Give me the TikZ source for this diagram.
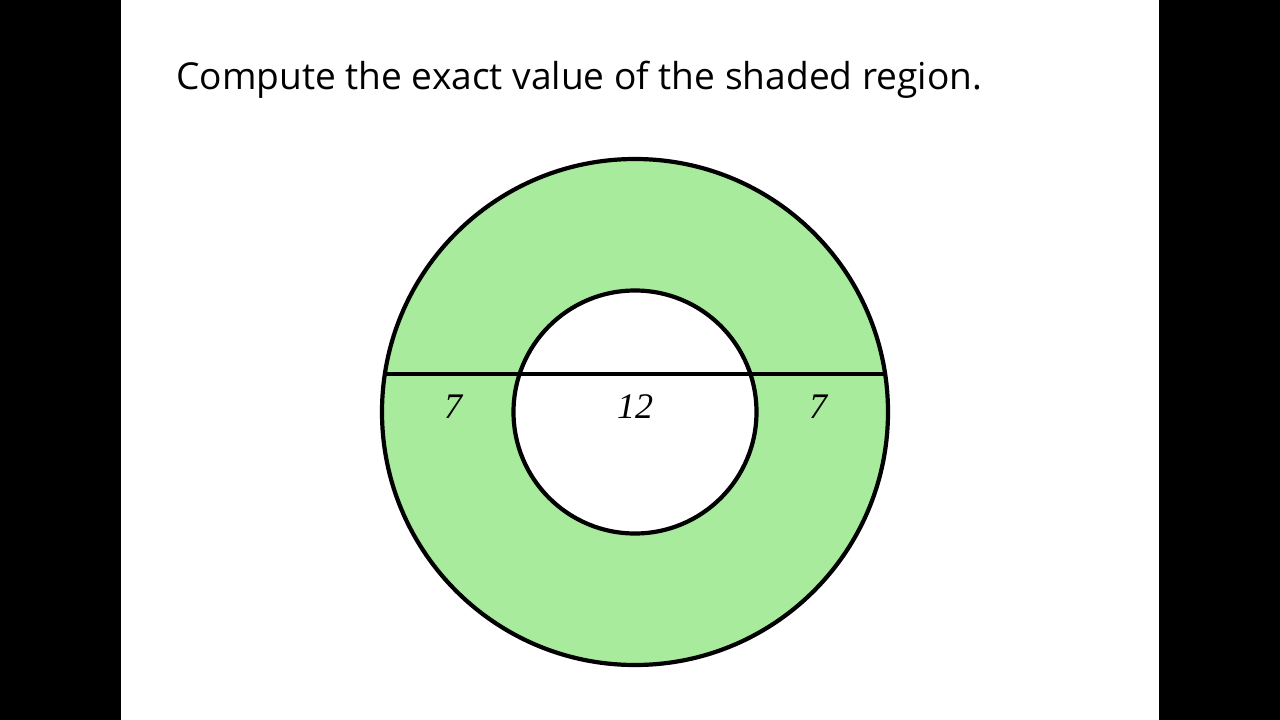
\documentclass[tikz,border=0pt]{standalone}
\usepackage{fontspec}
\usetikzlibrary{calc}
\setmainfont{Open Sans}
\newfontfamily\labfont{Liberation Serif}
\definecolor{ringgreen}{HTML}{A8EB9C}
\tikzset{ring/.style={line width=4.2pt, draw=black}, lab/.style={font=\labfont\itshape\fontsize{36}{36}\selectfont, inner sep=0pt}}
\begin{document}
\begin{tikzpicture}[x=1pt,y=-1pt]
\useasboundingbox (0,0) rectangle (1280,720);
\fill[black] (0,0) rectangle (121,720);
\fill[black] (1159,0) rectangle (1280,720);
\fill[white] (121,0) rectangle (1159,720);
\node[anchor=base west, inner sep=0pt, font=\fontsize{37.1}{37.1}\selectfont] (title) at (176,89) {Compute the exact value of the shaded region.};
\coordinate (c) at (635,412);
\fill[ringgreen, even odd rule] (c) circle[radius=253] (c) circle[radius=121.5];
\draw[ring] (c) circle[radius=253];
\draw[ring] (c) circle[radius=121.5];
\coordinate (l) at ($(c)+(-249.7,-38)$);
\coordinate (r) at ($(c)+(249.7,-38)$);
\draw[line width=4.2pt] (l) -- (r);
\node[lab] (a) at (453,407) {7};
\node[lab] (b) at (635,407) {12};
\node[lab] (d) at (818,407) {7};
\end{tikzpicture}
\end{document}
